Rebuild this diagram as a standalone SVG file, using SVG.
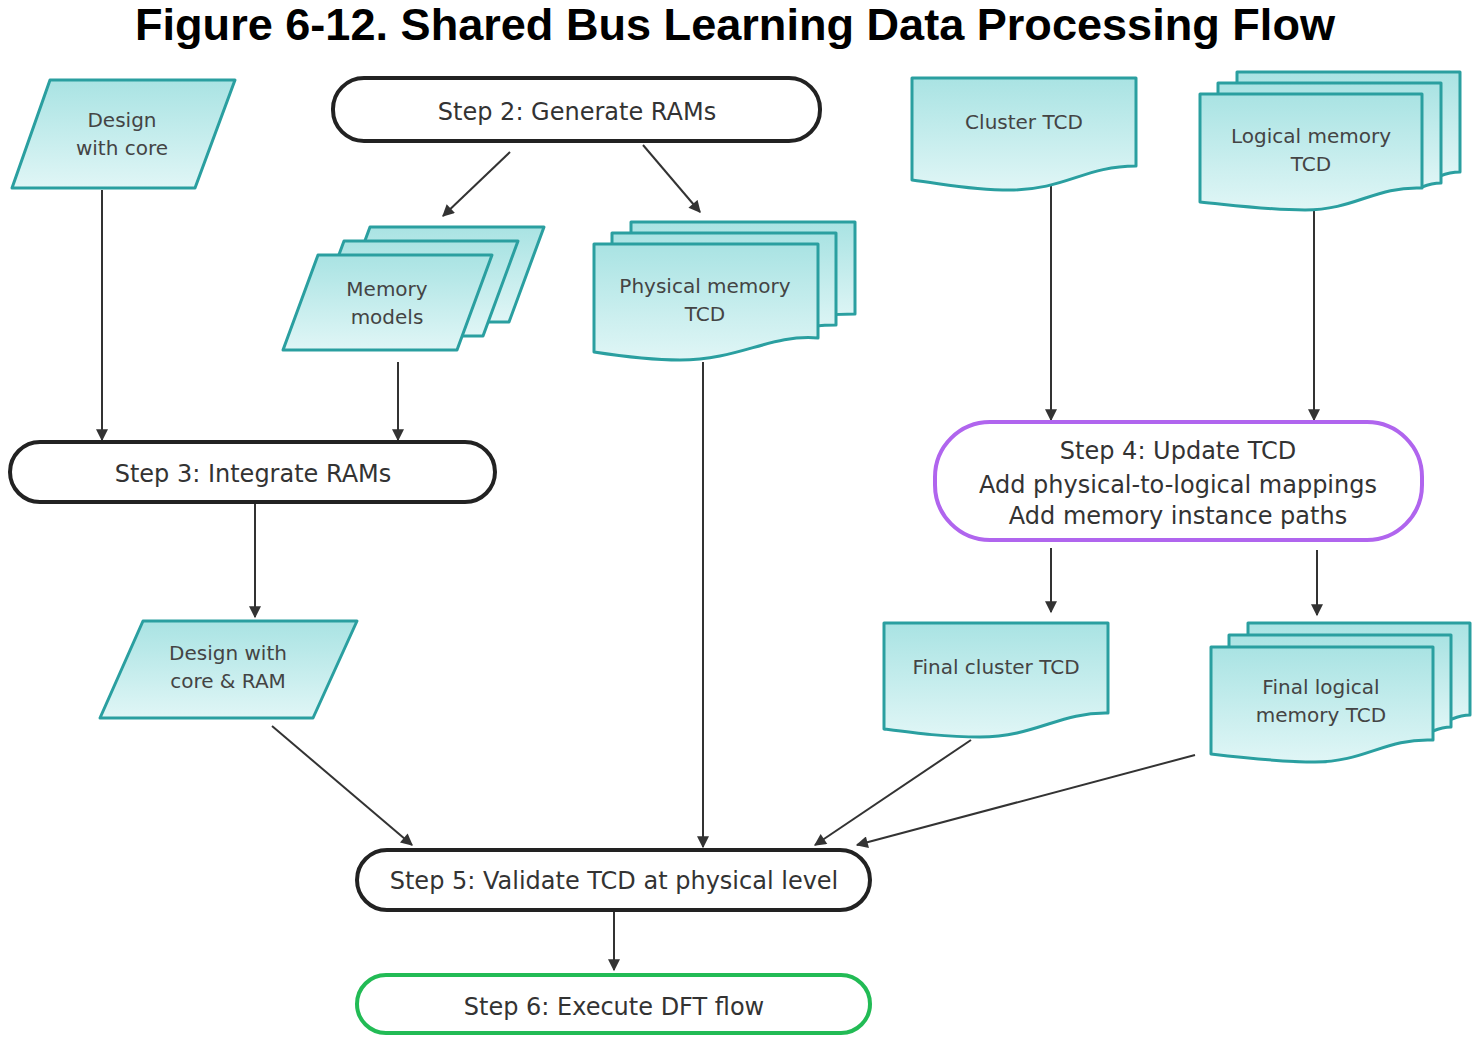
<svg xmlns="http://www.w3.org/2000/svg" width="1474" height="1045" viewBox="0 0 1474 1045">
<style>
.s{fill:url(#g);stroke:#2a9fa0;stroke-width:3;stroke-linejoin:round}
.t{font-family:"DejaVu Sans",sans-serif;font-size:20px;fill:#444;text-anchor:middle}
.st{font-family:"DejaVu Sans",sans-serif;font-size:24px;fill:#333;text-anchor:middle}
.term{fill:#fff;stroke-width:4}
.c{stroke:#333;stroke-width:2;fill:none;marker-end:url(#a)}
</style>
<defs>
<linearGradient id="g" x1="0" y1="0" x2="0" y2="1"><stop offset="0" stop-color="#a9e3e3"/><stop offset="1" stop-color="#e0f6f6"/></linearGradient>
<marker id="a" viewBox="0 0 10 10" refX="9" refY="5" markerWidth="13" markerHeight="12" orient="auto" markerUnits="userSpaceOnUse"><path d="M0,0L10,5L0,10z" fill="#333"/></marker>
</defs>
<rect width="1474" height="1045" fill="#fff"/>
<text x="135" y="40" font-family="Liberation Sans,Arial,sans-serif" font-weight="bold" font-size="44" textLength="1200" lengthAdjust="spacingAndGlyphs">Figure 6-12. Shared Bus Learning Data Processing Flow</text>

<g id="connectors">
<line class="c" x1="102" y1="190" x2="102" y2="440"/>
<line class="c" x1="510" y1="152" x2="443" y2="216"/>
<line class="c" x1="643" y1="145" x2="700" y2="212"/>
<line class="c" x1="398" y1="362" x2="398" y2="440"/>
<line class="c" x1="1051" y1="182" x2="1051" y2="420"/>
<line class="c" x1="1314" y1="210" x2="1314" y2="420"/>
<line class="c" x1="255" y1="504" x2="255" y2="617"/>
<line class="c" x1="703" y1="362" x2="703" y2="847"/>
<line class="c" x1="1051" y1="548" x2="1051" y2="612"/>
<line class="c" x1="1317" y1="550" x2="1317" y2="615"/>
<line class="c" x1="272" y1="726" x2="412" y2="845"/>
<line class="c" x1="971" y1="740" x2="815" y2="845"/>
<line class="c" x1="1195" y1="755" x2="857" y2="845"/>
<line class="c" x1="614" y1="912" x2="614" y2="970"/>
</g>

<g id="design-with-core">
<polygon class="s" points="12,188 50,80 235,80 195,188"/>
<text class="t" x="122" y="127">Design</text><text class="t" x="122" y="155">with core</text>
</g>

<g id="step2">
<rect class="term" x="333" y="78" width="487" height="63" rx="31" stroke="#222"/>
<text class="st" x="577" y="120">Step 2: Generate RAMs</text>
</g>

<g id="memory-models">
<polygon class="s" points="335,322 370,227 544,227 509,322"/>
<polygon class="s" points="309,336 344,241 518,241 483,336"/>
<polygon class="s" points="283,350 318,255 492,255 457,350"/>
<text class="t" x="387" y="296">Memory</text><text class="t" x="387" y="324">models</text>
</g>

<g id="physical-memory-tcd">
<path class="s" d="M631,222H855V314C820,314 795,318 770,322H631Z"/>
<path class="s" d="M612,233H836V325C805,325 790,330 760,334H612Z"/>
<path class="s" d="M594,244H818V338C770,334 740,360 680,360C650,360 620,356 594,352Z"/>
<text class="t" x="705" y="293">Physical memory</text><text class="t" x="705" y="321">TCD</text>
</g>

<g id="cluster-tcd">
<path class="s" d="M912,78H1136V166C1085,166 1065,190 1010,190C970,190 945,184 912,180Z"/>
<text class="t" x="1024" y="129">Cluster TCD</text>
</g>

<g id="logical-memory-tcd">
<path class="s" d="M1237,72H1460V172C1450,172 1445,174 1440,176H1237Z"/>
<path class="s" d="M1218,83H1441V183C1432,183 1427,185 1422,187H1218Z"/>
<path class="s" d="M1200,94H1422V188C1375,186 1355,210 1305,210C1270,210 1240,206 1200,202Z"/>
<text class="t" x="1311" y="143">Logical memory</text><text class="t" x="1311" y="171">TCD</text>
</g>

<g id="step3">
<rect class="term" x="10" y="442" width="485" height="60" rx="30" stroke="#222"/>
<text class="st" x="253" y="482">Step 3: Integrate RAMs</text>
</g>

<g id="step4">
<rect class="term" x="935" y="422" width="487" height="118" rx="55" stroke="#b065ee"/>
<text class="st" x="1178" y="459">Step 4: Update TCD</text>
<text class="st" x="1178" y="493">Add physical-to-logical mappings</text>
<text class="st" x="1178" y="524">Add memory instance paths</text>
</g>

<g id="design-core-ram">
<polygon class="s" points="100,718 143,621 357,621 313,718"/>
<text class="t" x="228" y="660">Design with</text><text class="t" x="228" y="688">core &amp; RAM</text>
</g>

<g id="final-cluster-tcd">
<path class="s" d="M884,623H1108V713C1060,712 1035,737 980,737C945,737 915,733 884,729Z"/>
<text class="t" x="996" y="674">Final cluster TCD</text>
</g>

<g id="final-logical-tcd">
<path class="s" d="M1248,623H1470V715C1462,715 1457,717 1452,719H1248Z"/>
<path class="s" d="M1229,635H1451V727C1443,727 1438,729 1433,731H1229Z"/>
<path class="s" d="M1211,647H1433V740C1385,738 1365,762 1315,762C1280,762 1245,758 1211,754Z"/>
<text class="t" x="1321" y="694">Final logical</text><text class="t" x="1321" y="722">memory TCD</text>
</g>

<g id="step5">
<rect class="term" x="357" y="850" width="513" height="60" rx="30" stroke="#222"/>
<text class="st" x="614" y="889">Step 5: Validate TCD at physical level</text>
</g>

<g id="step6">
<rect class="term" x="357" y="975" width="513" height="58" rx="29" stroke="#22bb55"/>
<text class="st" x="614" y="1015">Step 6: Execute DFT flow</text>
</g>
</svg>
